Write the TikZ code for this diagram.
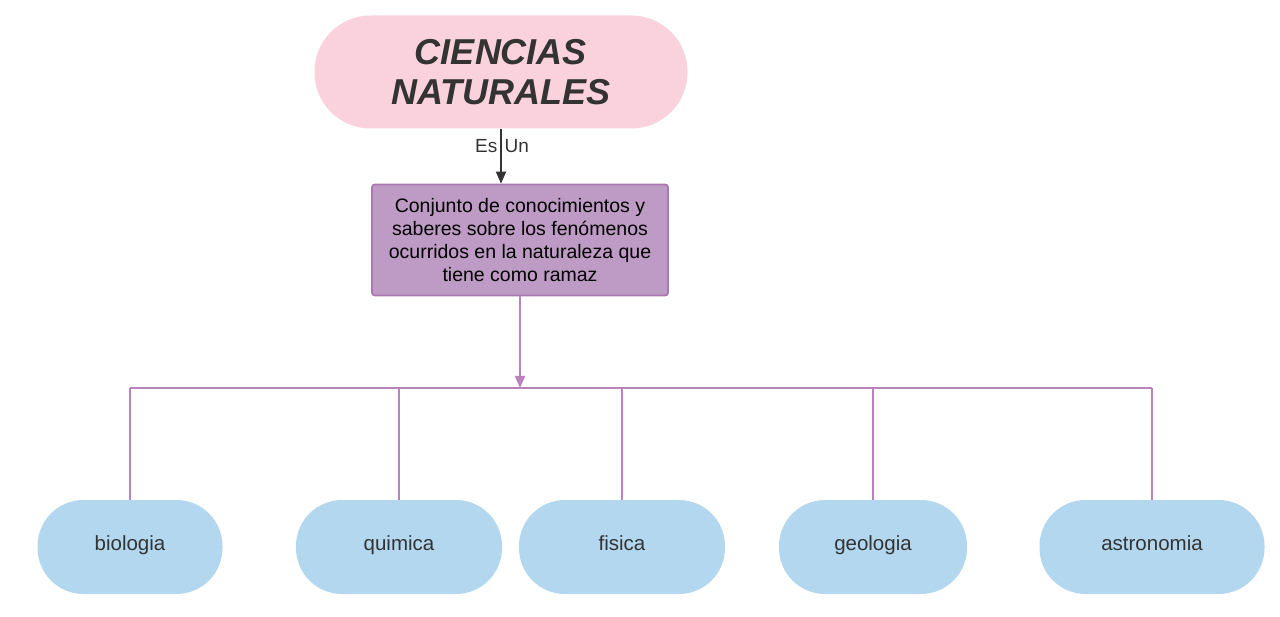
\documentclass[tikz,border=0pt]{standalone}
\usepackage{fontspec}
\setmainfont{Liberation Sans}
\usetikzlibrary{arrows.meta}
\definecolor{pinkfill}{HTML}{F9D2DE}
\definecolor{purplefill}{HTML}{BE9BC4}
\definecolor{purpledraw}{HTML}{A878AE}
\definecolor{purpleline}{HTML}{B883BE}
\definecolor{bluefill}{HTML}{B3D7EF}
\definecolor{darktext}{HTML}{333333}
\tikzset{
  titlepill/.style={rectangle, rounded corners=56pt, fill=pinkfill, minimum width=373pt, minimum height=113pt, inner sep=0pt, align=center, text=darktext, font=\fontsize{36}{40}\selectfont\bfseries\itshape},
  conceptbox/.style={rectangle, rounded corners=3pt, fill=purplefill, draw=purpledraw, line width=1.8pt, minimum width=296pt, minimum height=111pt, inner sep=0pt, align=center, text=black, font=\fontsize{19.5}{23.3}\selectfont},
  branchpill/.style={rectangle, rounded corners=46pt, fill=bluefill, minimum height=94pt, inner sep=0pt, text height=0.72em, text depth=0em, text=darktext, font=\fontsize{20.5}{22}\selectfont},
  darkarrow/.style={draw=darktext, line width=1.8pt, -{Triangle[width=10pt,length=12pt]}},
  purplearrow/.style={draw=purpleline, line width=1.6pt, -{Triangle[width=10pt,length=12pt]}},
  purpleconn/.style={draw=purpleline, line width=1.6pt},
  edgelabel/.style={font=\fontsize{19}{22}\selectfont, text=darktext, inner sep=3pt}
}
\begin{document}
\begin{tikzpicture}[x=1pt,y=-1pt]
\useasboundingbox (0,0) rectangle (1280,617);
\node[titlepill] (title) at (501,72) {CIENCIAS\\NATURALES};
\node[conceptbox] (concept) at (520,240) {Conjunto de conocimientos y\\saberes sobre los fenómenos\\ocurridos en la naturaleza que\\tiene como ramaz};
\draw[darkarrow] (title.south) -- (title.south |- concept.north);
\node[edgelabel, anchor=east] (es) at (500.5,146) {Es};
\node[edgelabel, anchor=west] (un) at (501.5,146) {Un};
\node[branchpill, minimum width=185pt] (bio) at (130,547) {biologia};
\node[branchpill, minimum width=206pt] (qui) at (399,547) {quimica};
\node[branchpill, minimum width=206pt] (fis) at (622,547) {fisica};
\node[branchpill, minimum width=188pt] (geo) at (873,547) {geologia};
\node[branchpill, minimum width=225pt] (ast) at (1152,547) {astronomia};
\coordinate (bus) at (520,388);
\draw[purplearrow] (concept.south) -- (bus);
\draw[purpleconn] (bio.north |- bus) -- (ast.north |- bus);
\foreach \n in {bio,qui,fis,geo,ast}{
  \draw[purpleconn] (\n.north |- bus) -- (\n.north);
}
\end{tikzpicture}
\end{document}
